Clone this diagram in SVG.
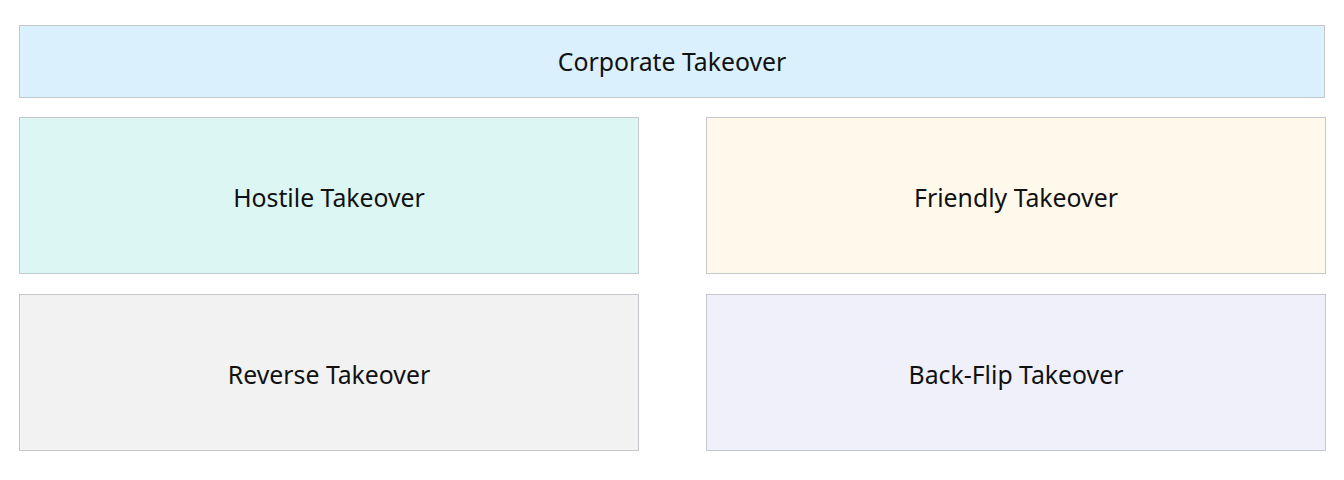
<svg xmlns="http://www.w3.org/2000/svg" width="1344" height="480" viewBox="0 0 1344 480">
<style>
.box{stroke:#c4c8cc;stroke-width:1}
.t{font-family:"Noto Sans","Open Sans",sans-serif;font-size:24.8px;fill:#111111;text-anchor:middle;dominant-baseline:central}
</style>
<rect width="1344" height="480" fill="#ffffff"/>
<g id="corporate"><rect class="box" x="19.5" y="25.5" width="1305" height="72" fill="#daf0fc"/><text class="t" x="672" y="61">Corporate Takeover</text></g>
<g id="hostile"><rect class="box" x="19.5" y="117.5" width="619" height="156" fill="#dcf6f3" stroke="#b8c6c4"/><text class="t" x="329" y="197">Hostile Takeover</text></g>
<g id="friendly"><rect class="box" x="706.5" y="117.5" width="619" height="156" fill="#fff9ec"/><text class="t" x="1016" y="197">Friendly Takeover</text></g>
<g id="reverse"><rect class="box" x="19.5" y="294.5" width="619" height="156" fill="#f2f2f2"/><text class="t" x="329" y="374">Reverse Takeover</text></g>
<g id="backflip"><rect class="box" x="706.5" y="294.5" width="619" height="156" fill="#f0f0fa"/><text class="t" x="1016" y="374">Back-Flip Takeover</text></g>
<g id="connectors"></g>
</svg>
